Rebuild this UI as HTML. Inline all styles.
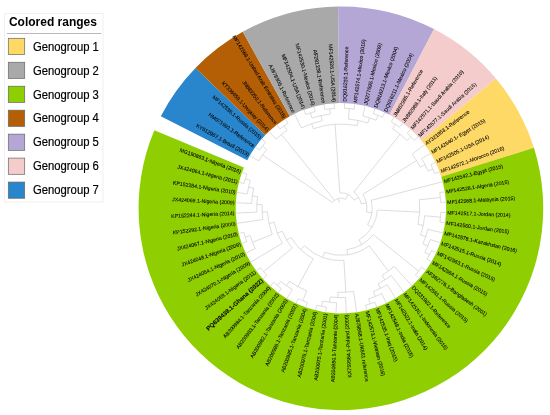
<!DOCTYPE html>
<html><head><meta charset="utf-8"><title>Colored ranges</title>
<style>html,body{margin:0;padding:0;background:#fff}body{width:550px;height:415px;overflow:hidden}</style></head>
<body>
<svg width="550" height="415" viewBox="0 0 550 415" style="display:block">
<rect width="550" height="415" fill="#fff"/>
<path d="M160.82 116.26A202.3 201.8 0 0 1 195.47 67.92L265.27 135.07A105.2 105.2 0 0 0 247.25 160.27Z" fill="#2986cc"/>
<path d="M195.47 67.92A202.3 201.8 0 0 1 242.74 31.75L289.86 116.21A105.2 105.2 0 0 0 265.27 135.07Z" fill="#b45f06"/>
<path d="M242.74 31.75A202.3 201.8 0 0 1 338.08 6.42L339.43 103.01A105.2 105.2 0 0 0 289.86 116.21Z" fill="#a9a9a9"/>
<path d="M338.08 6.42A202.3 201.8 0 0 1 434.08 29.08L389.36 114.82A105.2 105.2 0 0 0 339.43 103.01Z" fill="#b4a7d6"/>
<path d="M434.08 29.08A202.3 201.8 0 0 1 495.89 78.5L421.5 140.59A105.2 105.2 0 0 0 389.36 114.82Z" fill="#f4cccc"/>
<path d="M495.89 78.5A202.3 201.8 0 0 1 533.93 147.81L441.28 176.72A105.2 105.2 0 0 0 421.5 140.59Z" fill="#ffd966"/>
<path d="M533.93 147.81A202.3 201.8 0 1 1 154.34 130.17L243.88 167.52A105.2 105.2 0 1 0 441.28 176.72Z" fill="#8fce00"/>
<path d="M259.55 150.02A100.01 100.01 0 0 1 265.67 142.3M259.55 150.02L255.25 146.95M265.67 142.3L261.69 138.82M258.81 160.95A94.72 94.72 0 0 1 266.66 149.37M258.81 160.95L249.64 155.67M266.66 149.37L262.52 146.09M280.03 128.85A100.01 100.01 0 0 1 288.13 123.25M280.03 128.85L276.81 124.65M288.13 123.25L285.34 118.75M276.13 139.08A94.72 94.72 0 0 1 287.02 130.3M276.13 139.08L268.9 131.36M287.02 130.3L284.01 125.95M305.78 114.56A100.01 100.01 0 0 1 315.16 111.56M305.78 114.56L303.92 109.61M315.16 111.56L313.8 106.45M324.79 109.5A100.01 100.01 0 0 1 334.58 108.39M324.79 109.5L323.94 104.27M334.58 108.39L334.25 103.11M312.05 117.98A94.72 94.72 0 0 1 330.27 114.08M312.05 117.98L310.43 112.94M330.27 114.08L329.67 108.82M301.41 127.96A89.43 89.43 0 0 1 322.17 120.75M301.41 127.96L294.4 113.72M322.17 120.75L321.06 115.58M344.43 108.25A100.01 100.01 0 0 1 354.24 109.08M344.43 108.25L344.62 102.97M354.24 109.08L354.95 103.84M373.39 113.61A100.01 100.01 0 0 1 382.54 117.27M373.39 113.61L375.11 108.61M382.54 117.27L384.74 112.46M362.71 116.03A94.72 94.72 0 0 1 376.05 120.24M362.71 116.03L365.15 105.73M376.05 120.24L378.01 115.33M348.45 119.09A89.43 89.43 0 0 1 367.86 122.93M348.45 119.09L349.35 108.55M367.86 122.93L369.46 117.89M313.3 128.71A84.14 84.14 0 0 1 357.24 125.66M313.3 128.71L311.57 123.72M357.24 125.66L358.26 120.47M391.28 121.81A100.01 100.01 0 0 1 399.53 127.18M391.28 121.81L393.94 117.24M399.53 127.18L402.64 122.9M407.22 133.34A100.01 100.01 0 0 1 414.26 140.23M407.22 133.34L410.73 129.38M414.26 140.23L418.14 136.63M392.59 128.83A94.72 94.72 0 0 1 407.13 140.48M392.59 128.83L395.47 124.39M407.13 140.48L410.83 136.7M430.88 164.55A100.01 100.01 0 0 1 434.74 173.61M430.88 164.55L435.64 162.24M434.74 173.61L439.7 171.78M421.64 158.67A94.72 94.72 0 0 1 428.05 171.1M421.64 158.67L430.66 153.14M428.05 171.1L432.92 169.03M412.16 154.17A89.43 89.43 0 0 1 420.37 167.19M412.16 154.17L424.81 144.58M420.37 167.19L425.08 164.77M439.69 192.65A100.01 100.01 0 0 1 440.74 202.44M439.69 192.65L444.92 191.83M440.74 202.44L446.03 202.14M440.83 212.29A100.01 100.01 0 0 1 439.94 222.1M440.83 212.29L446.11 212.51M439.94 222.1L445.18 222.84M431.59 250.35A100.01 100.01 0 0 1 427.01 259.07M431.59 250.35L436.39 252.58M427.01 259.07L431.56 261.76M430.31 239.48A94.72 94.72 0 0 1 424.73 252.3M430.31 239.48L440.29 242.97M424.73 252.3L429.41 254.76M427.81 229.28A89.43 89.43 0 0 1 422.9 243.88M427.81 229.28L443.23 233.02M422.9 243.88L427.75 245.99M424.7 215.78A84.14 84.14 0 0 1 420.66 235M424.7 215.78L440.5 217.21M420.66 235L425.67 236.69M419.3 199.79A78.85 78.85 0 0 1 418.06 224.42M419.3 199.79L440.34 197.53M418.06 224.42L423.24 225.51M421.59 267.29A100.01 100.01 0 0 1 415.38 274.94M421.59 267.29L425.86 270.41M415.38 274.94L419.32 278.47M374.96 302.23A100.01 100.01 0 0 1 365.55 305.13M374.96 302.23L376.76 307.2M365.55 305.13L366.85 310.25M381.76 293.65A94.72 94.72 0 0 1 368.74 298.74M381.76 293.65L386.33 303.2M368.74 298.74L370.29 303.79M387.23 284.69A89.43 89.43 0 0 1 373.42 291.51M387.23 284.69L395.45 298.27M373.42 291.51L375.34 296.44M391.36 275.53A84.14 84.14 0 0 1 378.13 283.65M391.36 275.53L404.05 292.46M378.13 283.65L380.47 288.4M394.16 266.34A78.85 78.85 0 0 1 382.16 275.39M394.16 266.34L412.03 285.84M382.16 275.39L384.93 279.9M326.44 307.16A100.01 100.01 0 0 1 316.78 305.26M326.44 307.16L325.68 312.39M316.78 305.26L315.5 310.39M336.49 302.82A94.72 94.72 0 0 1 322.61 301.14M336.49 302.82L336 313.39M322.61 301.14L321.59 306.33M345.55 297.51A89.43 89.43 0 0 1 330.15 296.98M345.55 297.51L346.37 313.36M330.15 296.98L329.52 302.23M353.51 291.39A84.14 84.14 0 0 1 338.02 292.29M353.51 291.39L356.69 312.31M338.02 292.29L337.84 297.58M307.35 302.41A100.01 100.01 0 0 1 298.24 298.66M307.35 302.41L305.57 307.4M298.24 298.66L295.98 303.44M281.36 288.55A100.01 100.01 0 0 1 273.74 282.31M281.36 288.55L278.21 292.8M273.74 282.31L270.19 286.23M292.27 289.48A94.72 94.72 0 0 1 280.83 281.43M292.27 289.48L286.83 298.56M280.83 281.43L277.47 285.52M306.78 290.87A89.43 89.43 0 0 1 289.44 281.34M306.78 290.87L302.75 300.65M289.44 281.34L286.4 285.67M266.78 275.34A100.01 100.01 0 0 1 260.53 267.72M266.78 275.34L262.86 278.89M260.53 267.72L256.28 270.87M246.68 241.73A100.01 100.01 0 0 1 243.84 232.3M246.68 241.73L241.7 243.51M243.84 232.3L238.7 233.58M255.22 248.58A94.72 94.72 0 0 1 250.21 235.53M255.22 248.58L245.65 253.09M250.21 235.53L245.14 237.05M243.98 183.53A100.01 100.01 0 0 1 246.88 174.12M243.98 183.53L238.85 182.23M246.88 174.12L241.9 172.31M247.25 193.98A94.72 94.72 0 0 1 250.37 180.34M247.25 193.98L236.79 192.39M250.37 180.34L245.31 178.79M251.59 203.53A89.43 89.43 0 0 1 253.72 188.28M251.59 203.53L235.74 202.71M253.72 188.28L248.56 187.1M256.85 212.1A84.14 84.14 0 0 1 257.56 196.59M256.85 212.1L235.71 213.08M257.56 196.59L252.33 195.86M262.88 219.58A78.85 78.85 0 0 1 262.13 204.57M262.88 219.58L236.7 223.4M262.13 204.57L256.85 204.33M272.23 234.56A73.56 73.56 0 0 1 267.43 211.83M272.23 234.56L252.47 242.15M267.43 211.83L262.15 212.09M282.31 243.24A68.27 68.27 0 0 1 274.1 222.3M282.31 243.24L250.53 262.25M274.1 222.3L268.93 223.39M292.2 248.13A62.98 62.98 0 0 1 282.26 231.18M292.2 248.13L263.56 271.61M282.26 231.18L277.34 233.11M313.13 258.77A57.69 57.69 0 0 1 291.13 237.37M313.13 258.77L297.85 286.59M291.13 237.37L286.56 240.04M343.94 260.51A52.4 52.4 0 0 1 304.37 245.77M343.94 260.51L345.79 292.2M304.37 245.77L300.68 249.56M369.27 245.81A47.11 47.11 0 0 1 324.45 252.35M369.27 245.81L388.38 271.15M324.45 252.35L322.6 257.3M373.38 234.54A41.82 41.82 0 0 1 346.93 249.58M373.38 234.54L418.58 271.19M346.93 249.58L347.7 254.82M377.38 210.03A36.53 36.53 0 0 1 358.96 239.95M377.38 210.03L419.65 212.15M358.96 239.95L361.57 244.55M371.13 200.33A31.24 31.24 0 0 1 367.5 224.58M371.13 200.33L442.8 181.67M367.5 224.58L372.01 227.35M362.85 194.36A25.95 25.95 0 0 1 366.56 212.04M362.85 194.36L416.55 160.5M366.56 212.04L371.8 212.83M353.82 192.08A20.66 20.66 0 0 1 361.12 203.95M353.82 192.08L400.14 134.29M361.12 203.95L366.3 202.87M339.83 192.87A15.37 15.37 0 0 1 354 200.15M339.83 192.87L335.07 124.26M354 200.15L358.5 197.38M332.56 202.54A10.08 10.08 0 0 1 345.51 199.24M332.56 202.54L262.52 155.01M334.57 200.36L281.41 134.49M345.51 199.24L347.93 194.53M338.41 198.43L339.52 202.79" fill="none" stroke="#cacaca" stroke-width="0.65"/>
<g font-family="'Liberation Sans',Arial,sans-serif" font-size="52" fill="#000" text-rendering="geometricPrecision" stroke="#000" stroke-width="0.7">
<text transform="translate(248.6 155.07) rotate(389.93) scale(0.1)" dy="18.2" text-anchor="end">KY612967.1-Brazil (2013)</text>
<text transform="translate(254.27 146.25) rotate(395.57) scale(0.1)" dy="18.2" text-anchor="end">HM071991.1-Reference</text>
<text transform="translate(260.79 138.03) rotate(401.22) scale(0.1)" dy="18.2" text-anchor="end">MF142536.1-Russia (2015)</text>
<text transform="translate(268.08 130.49) rotate(406.86) scale(0.1)" dy="18.2" text-anchor="end">KT336459.1-Uruguay (2014)</text>
<text transform="translate(276.08 123.7) rotate(412.51) scale(0.1)" dy="18.2" text-anchor="end">JN882252.1-Reference</text>
<text transform="translate(284.7 117.73) rotate(418.15) scale(0.1)" dy="18.2" text-anchor="end">MF142569.1-United Arab Emirates (2016)</text>
<text transform="translate(293.87 112.64) rotate(423.8) scale(0.1)" dy="18.2" text-anchor="end">AJ878905.1-Reference</text>
<text transform="translate(303.5 108.48) rotate(429.44) scale(0.1)" dy="18.2" text-anchor="end">MF142504.1-USA (2014)</text>
<text transform="translate(313.49 105.29) rotate(435.09) scale(0.1)" dy="18.2" text-anchor="end">MF142530.1-Mexico (2014)</text>
<text transform="translate(323.75 103.09) rotate(440.73) scale(0.1)" dy="18.2" text-anchor="end">AF281238.1-Reference</text>
<text transform="translate(334.17 101.91) rotate(446.38) scale(0.1)" dy="18.2" text-anchor="end">MF142526.1-USA (2014)</text>
<text transform="translate(344.66 101.77) rotate(-87.98) scale(0.1)" dy="18.2">DQ916210.1-Reference</text>
<text transform="translate(355.11 102.65) rotate(-82.33) scale(0.1)" dy="18.2">MF142574.1-Mexico (2016)</text>
<text transform="translate(365.42 104.56) rotate(-76.69) scale(0.1)" dy="18.2">JQ277695.1-Mexico (2009)</text>
<text transform="translate(375.5 107.48) rotate(-71.04) scale(0.1)" dy="18.2">DQ916213.1-Mexico (2004)</text>
<text transform="translate(385.24 111.37) rotate(-65.4) scale(0.1)" dy="18.2">DQ916211.1-Mexico (2004)</text>
<text transform="translate(394.55 116.2) rotate(-59.75) scale(0.1)" dy="18.2">JN882985.1-Reference</text>
<text transform="translate(403.34 121.92) rotate(-54.11) scale(0.1)" dy="18.2">JN882988.1-Italy (2011)</text>
<text transform="translate(411.52 128.48) rotate(-48.46) scale(0.1)" dy="18.2">MF142571.1-Saudi Arabia (2016)</text>
<text transform="translate(419.02 135.82) rotate(-42.82) scale(0.1)" dy="18.2">MF142577.1-Saudi Arabia (2016)</text>
<text transform="translate(425.76 143.85) rotate(-37.17) scale(0.1)" dy="18.2">AY321953.1-Reference</text>
<text transform="translate(431.68 152.51) rotate(-31.53) scale(0.1)" dy="18.2">MF142540.1- Egypt (2015)</text>
<text transform="translate(436.72 161.71) rotate(-25.88) scale(0.1)" dy="18.2">MF142505.1-USA (2014)</text>
<text transform="translate(440.83 171.36) rotate(-20.24) scale(0.1)" dy="18.2">MF142572.1-Morocco (2016)</text>
<text transform="translate(443.97 181.37) rotate(-14.59) scale(0.1)" dy="18.2">MF142542.1-Egypt (2015)</text>
<text transform="translate(446.1 191.64) rotate(-8.95) scale(0.1)" dy="18.2">MF142528.1-Algeria (2015)</text>
<text transform="translate(447.22 202.07) rotate(-3.3) scale(0.1)" dy="18.2">MF142568.1-Malaysia (2015)</text>
<text transform="translate(447.31 212.56) rotate(2.35) scale(0.1)" dy="18.2">MF142517.1-Jordan (2014)</text>
<text transform="translate(446.37 223) rotate(7.99) scale(0.1)" dy="18.2">MF142560.1-Jordan (2015)</text>
<text transform="translate(444.4 233.31) rotate(13.64) scale(0.1)" dy="18.2">MF142578.1-Kazakhstan (2016)</text>
<text transform="translate(441.43 243.37) rotate(19.28) scale(0.1)" dy="18.2">MF142515.1-Russia (2014)</text>
<text transform="translate(437.48 253.08) rotate(24.93) scale(0.1)" dy="18.2">MF142563.1-Russia (2015)</text>
<text transform="translate(432.6 262.37) rotate(30.57) scale(0.1)" dy="18.2">MF142564.1-Russia (2015)</text>
<text transform="translate(426.82 271.12) rotate(36.22) scale(0.1)" dy="18.2">AF362776.1-Bangladesh (2001)</text>
<text transform="translate(420.22 279.27) rotate(41.86) scale(0.1)" dy="18.2">MF142561.1-Russia (2015)</text>
<text transform="translate(412.84 286.73) rotate(47.51) scale(0.1)" dy="18.2">DQ231982.1-Reference</text>
<text transform="translate(404.77 293.42) rotate(53.15) scale(0.1)" dy="18.2">MF142570.1-Indonesia (2016)</text>
<text transform="translate(396.08 299.29) rotate(58.8) scale(0.1)" dy="18.2">MF142522.1-India (2014)</text>
<text transform="translate(386.85 304.28) rotate(64.44) scale(0.1)" dy="18.2">MF142548.1-India (2015)</text>
<text transform="translate(377.17 308.33) rotate(70.09) scale(0.1)" dy="18.2">MF142535.1-Iraq (2015)</text>
<text transform="translate(367.15 311.41) rotate(75.73) scale(0.1)" dy="18.2">MF142573.1-Vietnam (2016)</text>
<text transform="translate(356.87 313.5) rotate(81.38) scale(0.1)" dy="18.2">AJ878898.1-UK661 reference</text>
<text transform="translate(346.43 314.56) rotate(267.02) scale(0.1)" dy="18.2" text-anchor="end">KX759584.1-Poland (2000)</text>
<text transform="translate(335.94 314.58) rotate(272.67) scale(0.1)" dy="18.2" text-anchor="end">AB200980.1-Tanzania (2004)</text>
<text transform="translate(325.5 313.58) rotate(278.31) scale(0.1)" dy="18.2" text-anchor="end">AB200975.1-Tanzania (2001)</text>
<text transform="translate(315.21 311.56) rotate(283.96) scale(0.1)" dy="18.2" text-anchor="end">AB200976.1-Tanzania (2004)</text>
<text transform="translate(305.17 308.53) rotate(289.6) scale(0.1)" dy="18.2" text-anchor="end">AB200985.1-Tanzania (2004)</text>
<text transform="translate(295.47 304.53) rotate(295.25) scale(0.1)" dy="18.2" text-anchor="end">AB200986.1-Tanzania (2002)</text>
<text transform="translate(286.22 299.59) rotate(300.89) scale(0.1)" dy="18.2" text-anchor="end">AB200982.1-Tanzania (2003)</text>
<text transform="translate(277.49 293.77) rotate(306.54) scale(0.1)" dy="18.2" text-anchor="end">AB200983.1-Tanzania (2002)</text>
<text transform="translate(269.38 287.12) rotate(312.18) scale(0.1)" dy="18.2" text-anchor="end">AB200984.1-Tanzania (2004)</text>
<text transform="translate(261.97 279.7) rotate(317.83) scale(0.1)" dy="21.18" text-anchor="end" font-weight="bold" font-size="60.5">PQ639438.1-Ghana (2022)</text>
<text transform="translate(255.32 271.59) rotate(323.47) scale(0.1)" dy="18.2" text-anchor="end">JX424059.1-Nigeria (2011)</text>
<text transform="translate(249.5 262.86) rotate(329.12) scale(0.1)" dy="18.2" text-anchor="end">JX424070.1-Nigeria (2009)</text>
<text transform="translate(244.56 253.61) rotate(334.76) scale(0.1)" dy="18.2" text-anchor="end">JX424054.1-Nigeria (2010)</text>
<text transform="translate(240.56 243.91) rotate(340.41) scale(0.1)" dy="18.2" text-anchor="end">JX424048.1-Nigeria (2009)</text>
<text transform="translate(237.54 233.87) rotate(346.05) scale(0.1)" dy="18.2" text-anchor="end">JX424067.1-Nigeria (2010)</text>
<text transform="translate(235.52 223.57) rotate(351.7) scale(0.1)" dy="18.2" text-anchor="end">KP152292.1-Nigeria (2000)</text>
<text transform="translate(234.51 213.13) rotate(357.35) scale(0.1)" dy="18.2" text-anchor="end">KP152244.1-Nigeria (2014)</text>
<text transform="translate(234.55 202.64) rotate(362.99) scale(0.1)" dy="18.2" text-anchor="end">JX424069.1-Nigeria (2009)</text>
<text transform="translate(235.61 192.21) rotate(368.64) scale(0.1)" dy="18.2" text-anchor="end">KP152284.1-Nigeria (2010)</text>
<text transform="translate(237.69 181.93) rotate(374.28) scale(0.1)" dy="18.2" text-anchor="end">JX424064.1-Nigeria (2011)</text>
<text transform="translate(240.78 171.9) rotate(379.93) scale(0.1)" dy="18.2" text-anchor="end">MG190863.1-Nigeria (2016)</text>
</g>
<rect x="4.4" y="13.5" width="98.6" height="188.5" fill="#fff" stroke="#f0f0f0" stroke-width="1"/>
<text x="8.9" y="26.4" font-family="'Liberation Sans',Arial,sans-serif" font-weight="bold" font-size="12" fill="#000">Colored ranges</text>
<path d="M7 33.5H101.3" stroke="#8a8a8a" stroke-width="0.6" fill="none"/>
<rect x="8.3" y="38.3" width="16.4" height="16.2" fill="#ffd966" stroke="#666" stroke-width="0.7"/>
<text transform="translate(33 50.6) scale(0.917 1)" font-family="'Liberation Sans',Arial,sans-serif" font-size="12.3" fill="#000" stroke="#000" stroke-width="0.2">Genogroup 1</text>
<rect x="8.3" y="62.26" width="16.4" height="16.2" fill="#a9a9a9" stroke="#666" stroke-width="0.7"/>
<text transform="translate(33 74.56) scale(0.917 1)" font-family="'Liberation Sans',Arial,sans-serif" font-size="12.3" fill="#000" stroke="#000" stroke-width="0.2">Genogroup 2</text>
<rect x="8.3" y="86.22" width="16.4" height="16.2" fill="#8fce00" stroke="#666" stroke-width="0.7"/>
<text transform="translate(33 98.52) scale(0.917 1)" font-family="'Liberation Sans',Arial,sans-serif" font-size="12.3" fill="#000" stroke="#000" stroke-width="0.2">Genogroup 3</text>
<rect x="8.3" y="110.18" width="16.4" height="16.2" fill="#b45f06" stroke="#666" stroke-width="0.7"/>
<text transform="translate(33 122.48) scale(0.917 1)" font-family="'Liberation Sans',Arial,sans-serif" font-size="12.3" fill="#000" stroke="#000" stroke-width="0.2">Genogroup 4</text>
<rect x="8.3" y="134.14" width="16.4" height="16.2" fill="#b4a7d6" stroke="#666" stroke-width="0.7"/>
<text transform="translate(33 146.44) scale(0.917 1)" font-family="'Liberation Sans',Arial,sans-serif" font-size="12.3" fill="#000" stroke="#000" stroke-width="0.2">Genogroup 5</text>
<rect x="8.3" y="158.1" width="16.4" height="16.2" fill="#f4cccc" stroke="#666" stroke-width="0.7"/>
<text transform="translate(33 170.4) scale(0.917 1)" font-family="'Liberation Sans',Arial,sans-serif" font-size="12.3" fill="#000" stroke="#000" stroke-width="0.2">Genogroup 6</text>
<rect x="8.3" y="182.06" width="16.4" height="16.2" fill="#2986cc" stroke="#666" stroke-width="0.7"/>
<text transform="translate(33 194.36) scale(0.917 1)" font-family="'Liberation Sans',Arial,sans-serif" font-size="12.3" fill="#000" stroke="#000" stroke-width="0.2">Genogroup 7</text>
</svg>
</body></html>
